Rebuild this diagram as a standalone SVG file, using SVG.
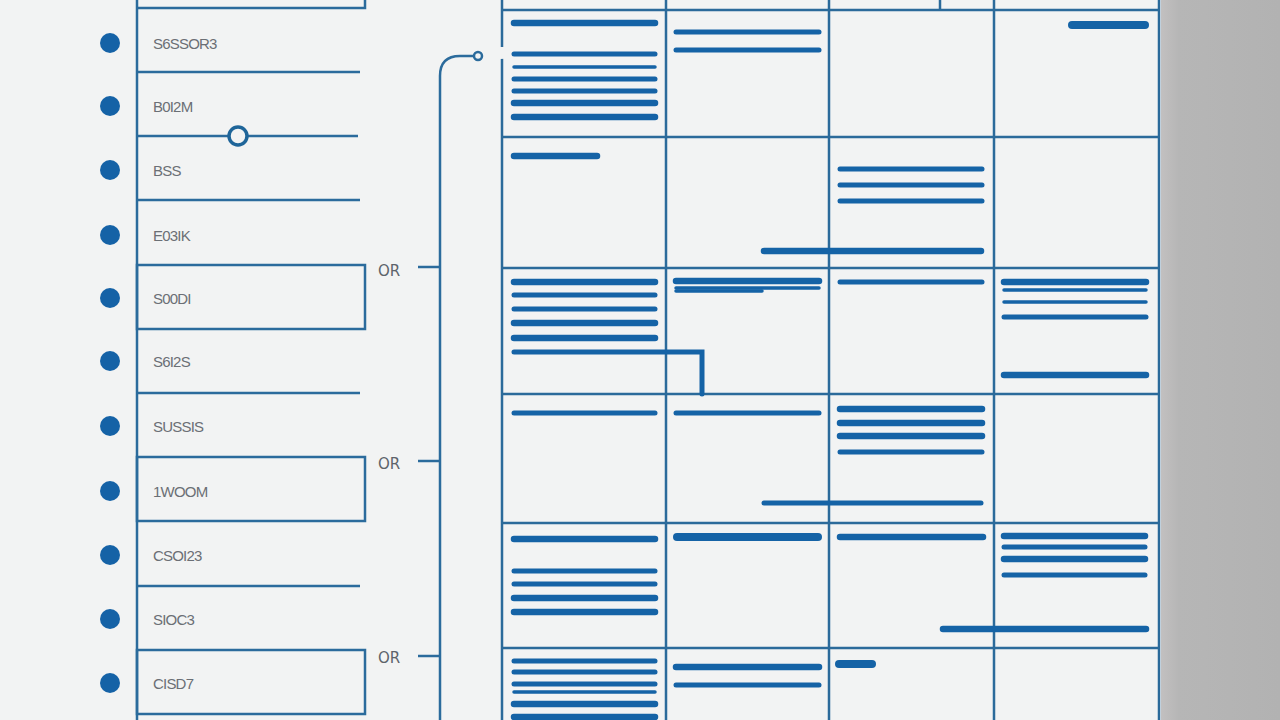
<svg xmlns="http://www.w3.org/2000/svg" width="1280" height="720" viewBox="0 0 1280 720">
<defs>
<linearGradient id="side" x1="0" y1="0" x2="1" y2="0">
<stop offset="0" stop-color="#c2c0c0"/>
<stop offset="0.15" stop-color="#b6b6b6"/>
<stop offset="1" stop-color="#b2b2b2"/>
</linearGradient>
<style>
.ln{stroke:#2b6b9c;stroke-width:2.5;fill:none}
.gl{stroke:#2b6a9a;stroke-width:2.5;fill:none}
.dot{fill:#1562a6}
.lbl{font-family:"Liberation Sans Narrow","Liberation Sans",Arial,sans-serif;font-size:15px;fill:#6b6f75;letter-spacing:-0.8px}
.or{font-family:"DejaVu Sans",sans-serif;font-size:15px;fill:#5d636b}
.b{stroke:#1563a6;stroke-linecap:round;fill:none}
.t3{stroke-width:3.5}
.t5{stroke-width:5}
.t6{stroke-width:6.5}
.t8{stroke-width:8}
</style>
</defs>
<rect x="0" y="0" width="1280" height="720" fill="#f2f3f3"/>
<rect x="1161" y="0" width="119" height="720" fill="url(#side)"/>

<g id="left-rail">
<line class="ln" x1="137" y1="0" x2="137" y2="720"/>
</g>

<g id="rows">
<g id="r1"><path class="ln" d="M137 8 H365 V0"/><circle class="dot" cx="110" cy="43" r="10"/><text class="lbl" x="153" y="49">S6SSOR3</text></g>
<g id="r2"><line class="ln" x1="137" y1="72" x2="360" y2="72"/><circle class="dot" cx="110" cy="106" r="10"/><text class="lbl" x="153" y="112">B0I2M</text></g>
<g id="r3"><line class="ln" x1="137" y1="136" x2="358" y2="136"/><circle cx="238" cy="136" r="9" fill="#f2f3f3" stroke="#1f6599" stroke-width="3.5"/><circle class="dot" cx="110" cy="170" r="10"/><text class="lbl" x="153" y="176">BSS</text></g>
<g id="r4"><line class="ln" x1="137" y1="200" x2="360" y2="200"/><circle class="dot" cx="110" cy="235" r="10"/><text class="lbl" x="153" y="241">E03IK</text></g>
<g id="r5"><rect class="ln" x="137" y="265" width="228" height="64"/><circle class="dot" cx="110" cy="298" r="10"/><text class="lbl" x="153" y="304">S00DI</text></g>
<g id="r6"><circle class="dot" cx="110" cy="361" r="10"/><text class="lbl" x="153" y="367">S6I2S</text><line class="ln" x1="137" y1="393" x2="360" y2="393"/></g>
<g id="r7"><circle class="dot" cx="110" cy="426" r="10"/><text class="lbl" x="153" y="432">SUSSIS</text></g>
<g id="r8"><rect class="ln" x="137" y="457" width="228" height="64"/><circle class="dot" cx="110" cy="491" r="10"/><text class="lbl" x="153" y="497">1WOOM</text></g>
<g id="r9"><circle class="dot" cx="110" cy="555" r="10"/><text class="lbl" x="153" y="561">CSOI23</text><line class="ln" x1="137" y1="586" x2="360" y2="586"/></g>
<g id="r10"><circle class="dot" cx="110" cy="619" r="10"/><text class="lbl" x="153" y="625">SIOC3</text></g>
<g id="r11"><rect class="ln" x="137" y="650" width="228" height="64"/><circle class="dot" cx="110" cy="683" r="10"/><text class="lbl" x="153" y="689">CISD7</text></g>
</g>

<g id="or-labels">
<text class="or" x="378" y="276">OR</text>
<text class="or" x="378" y="469">OR</text>
<text class="or" x="378" y="663">OR</text>
</g>

<g id="connectors">
<path class="ln" d="M440 720 V76 Q440 56 460 56 H474"/>
<circle cx="478" cy="56" r="4" fill="#f2f3f3" stroke="#2b6b9c" stroke-width="2.5"/>
<line class="ln" x1="418" y1="267" x2="440" y2="267"/>
<line class="ln" x1="418" y1="461" x2="440" y2="461"/>
<line class="ln" x1="418" y1="656" x2="440" y2="656"/>
</g>

<g id="grid">
<line class="gl" x1="502" y1="0" x2="502" y2="720"/>
<line class="gl" x1="666" y1="0" x2="666" y2="720"/>
<line class="gl" x1="829" y1="0" x2="829" y2="720"/>
<line class="gl" x1="994" y1="0" x2="994" y2="720"/>
<line class="gl" x1="1159" y1="0" x2="1159" y2="720"/>
<line class="gl" x1="940" y1="0" x2="940" y2="10"/>
<line class="gl" x1="502" y1="10" x2="1159" y2="10"/>
<line class="gl" x1="502" y1="137" x2="1159" y2="137"/>
<line class="gl" x1="502" y1="268" x2="1159" y2="268"/>
<line class="gl" x1="502" y1="394" x2="1159" y2="394"/>
<line class="gl" x1="502" y1="523" x2="1159" y2="523"/>
<line class="gl" x1="502" y1="648" x2="1159" y2="648"/>
<polygon points="500,47 506,47 522,58 500,59" fill="#f2f3f3"/>
</g>

<g id="bars">
<!-- row 1 -->
<line class="b t6" x1="514" y1="23" x2="655" y2="23"/>
<line class="b t5" x1="514" y1="54" x2="655" y2="54"/>
<line class="b t3" x1="514" y1="67" x2="655" y2="67"/>
<line class="b t5" x1="514" y1="79" x2="655" y2="79"/>
<line class="b t5" x1="514" y1="91" x2="655" y2="91"/>
<line class="b t6" x1="514" y1="103" x2="655" y2="103"/>
<line class="b t6" x1="514" y1="117" x2="655" y2="117"/>
<line class="b t5" x1="676" y1="32" x2="819" y2="32"/>
<line class="b t5" x1="676" y1="50" x2="819" y2="50"/>
<line class="b t8" x1="1072" y1="25" x2="1145" y2="25"/>
<!-- row 2 -->
<line class="b t6" x1="514" y1="156" x2="597" y2="156"/>
<line class="b t5" x1="840" y1="169" x2="982" y2="169"/>
<line class="b t5" x1="840" y1="185" x2="982" y2="185"/>
<line class="b t5" x1="840" y1="201" x2="982" y2="201"/>
<line class="b t6" x1="764" y1="251" x2="981" y2="251"/>
<!-- row 3 -->
<line class="b t6" x1="514" y1="282" x2="655" y2="282"/>
<line class="b t5" x1="514" y1="295" x2="655" y2="295"/>
<line class="b t5" x1="514" y1="309" x2="655" y2="309"/>
<line class="b t6" x1="514" y1="323" x2="655" y2="323"/>
<line class="b t6" x1="514" y1="338" x2="655" y2="338"/>
<path class="b t5" d="M514 352 H702 V394" stroke-linecap="butt" stroke-linejoin="miter"/>
<line class="b t6" x1="676" y1="281" x2="819" y2="281"/>
<line class="b t3" x1="676" y1="288" x2="819" y2="288"/>
<line class="b t3" x1="676" y1="291" x2="762" y2="291"/>
<line class="b t5" x1="840" y1="282" x2="982" y2="282"/>
<line class="b t6" x1="1004" y1="282" x2="1146" y2="282"/>
<line class="b t3" x1="1004" y1="290" x2="1146" y2="290"/>
<line class="b t3" x1="1004" y1="302" x2="1146" y2="302"/>
<line class="b t5" x1="1004" y1="317" x2="1146" y2="317"/>
<line class="b t6" x1="1004" y1="375" x2="1146" y2="375"/>
<!-- row 4 -->
<line class="b t5" x1="514" y1="413" x2="655" y2="413"/>
<line class="b t5" x1="676" y1="413" x2="819" y2="413"/>
<line class="b t6" x1="840" y1="409" x2="982" y2="409"/>
<line class="b t6" x1="840" y1="423" x2="982" y2="423"/>
<line class="b t6" x1="840" y1="436" x2="982" y2="436"/>
<line class="b t5" x1="840" y1="452" x2="982" y2="452"/>
<line class="b t5" x1="764" y1="503" x2="981" y2="503"/>
<!-- row 5 -->
<line class="b t6" x1="514" y1="539" x2="655" y2="539"/>
<line class="b t5" x1="514" y1="571" x2="655" y2="571"/>
<line class="b t5" x1="514" y1="584" x2="655" y2="584"/>
<line class="b t6" x1="514" y1="598" x2="655" y2="598"/>
<line class="b t6" x1="514" y1="612" x2="655" y2="612"/>
<line class="b t8" x1="677" y1="537" x2="818" y2="537"/>
<line class="b t6" x1="840" y1="537" x2="983" y2="537"/>
<line class="b t6" x1="1004" y1="536" x2="1145" y2="536"/>
<line class="b t5" x1="1004" y1="547" x2="1145" y2="547"/>
<line class="b t6" x1="1004" y1="559" x2="1145" y2="559"/>
<line class="b t5" x1="1004" y1="575" x2="1145" y2="575"/>
<line class="b t6" x1="943" y1="629" x2="1146" y2="629"/>
<!-- row 6 -->
<line class="b t5" x1="514" y1="661" x2="655" y2="661"/>
<line class="b t5" x1="514" y1="672" x2="655" y2="672"/>
<line class="b t5" x1="514" y1="684" x2="655" y2="684"/>
<line class="b t3" x1="514" y1="692" x2="655" y2="692"/>
<line class="b t6" x1="514" y1="704" x2="655" y2="704"/>
<line class="b t6" x1="514" y1="717" x2="655" y2="717"/>
<line class="b t6" x1="676" y1="667" x2="819" y2="667"/>
<line class="b t5" x1="676" y1="685" x2="819" y2="685"/>
<line class="b t8" x1="839" y1="664" x2="872" y2="664"/>
</g>
</svg>
